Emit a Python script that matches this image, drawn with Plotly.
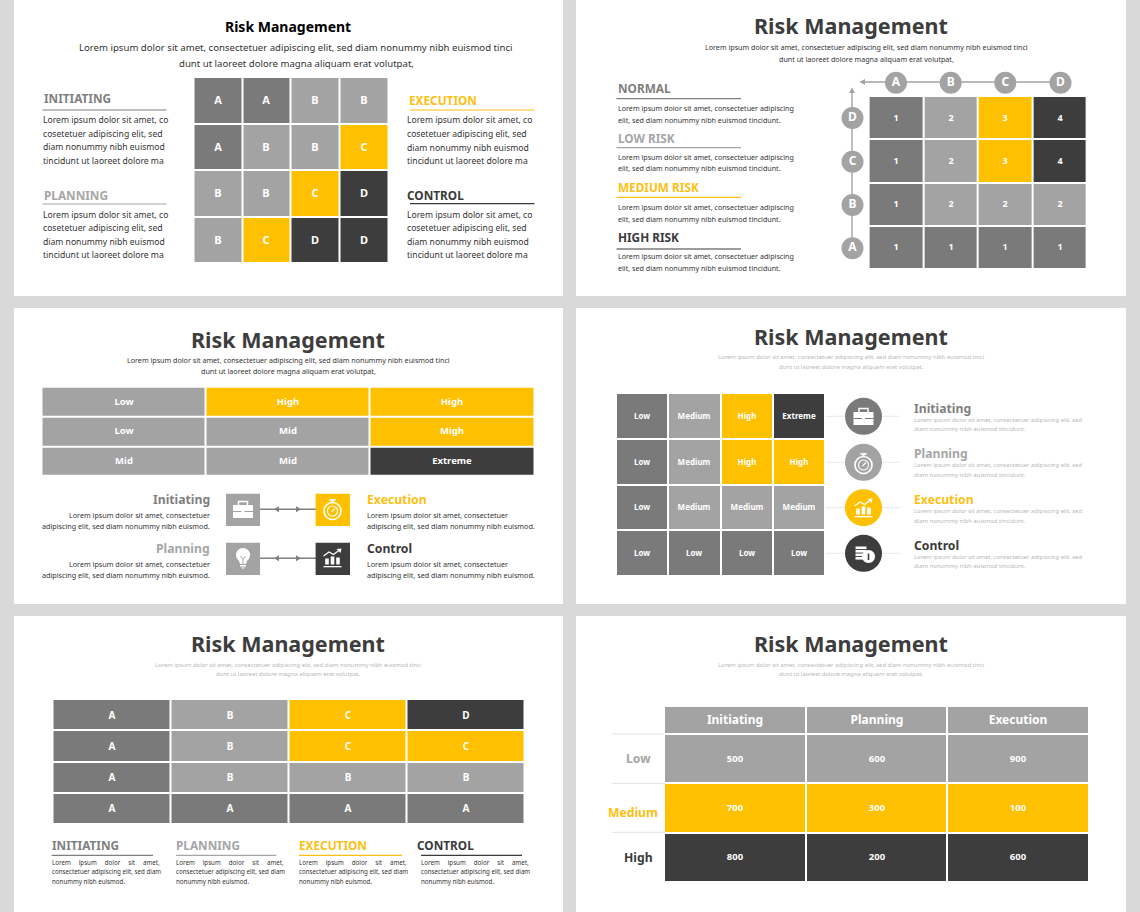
import numpy as np
import plotly.graph_objects as go

# ---------- data ----------
TITLE = "Risk Management"
SUB1 = "Lorem ipsum dolor sit amet, consectetuer adipiscing elit, sed diam nonummy nibh euismod tinci"
SUB2 = "dunt ut laoreet dolore magna aliquam erat volutpat,"

m1_labels = [list("AABB"), list("ABBC"), list("BBCD"), list("BCDD")]
m1_tiers = [[0, 0, 1, 1], [0, 1, 1, 2], [1, 1, 2, 3], [1, 2, 3, 3]]

m2_labels = [[1, 2, 3, 4], [1, 2, 3, 4], [1, 2, 2, 2], [1, 1, 1, 1]]
m2_tiers = [[0, 1, 2, 3], [0, 1, 2, 3], [0, 1, 1, 1], [0, 0, 0, 0]]
m2_cols = ["A", "B", "C", "D"]
m2_rows = ["D", "C", "B", "A"]

m3_labels = [["Low", "High", "High"], ["Low", "Mid", "Migh"], ["Mid", "Mid", "Extreme"]]
m3_tiers = [[1, 2, 2], [1, 1, 2], [1, 1, 3]]

m4_labels = [["Low", "Medium", "High", "Extreme"], ["Low", "Medium", "High", "High"],
             ["Low", "Medium", "Medium", "Medium"], ["Low", "Low", "Low", "Low"]]
m4_tiers = [[0, 1, 2, 3], [0, 1, 2, 2], [0, 1, 1, 1], [0, 0, 0, 0]]

m5_labels = [list("ABCD"), list("ABCC"), list("ABBB"), list("AAAA")]
m5_tiers = [[0, 1, 2, 3], [0, 1, 2, 2], [0, 1, 1, 1], [0, 0, 0, 0]]

m6_headers = ["Initiating", "Planning", "Execution"]
m6_rows = ["Low", "Medium", "High"]
m6_values = [[500, 600, 900], [700, 300, 100], [800, 200, 600]]
m6_tiers = [[1, 1, 1], [2, 2, 2], [3, 3, 3]]

# ---------- style ----------
FONT = "Noto Sans"
D1, G1, Y1, K1 = "#7a7a7a", "#a3a3a3", "#ffc000", "#3d3d3d"
H_GRAY, H_LIGHT, H_GOLD, H_DARK = "#7f7f7f", "#a6a6a6", "#fdbf12", "#3a3a3a"
TIER_SCALE = [[0, D1], [.25, D1], [.25, G1], [.5, G1], [.5, Y1], [.75, Y1], [.75, K1], [1, K1]]
LIGHT_TXT = "#b8b8b8"
BODY = "#333333"

fig = go.Figure()
shapes, notes = [], []


def rect(x0, y0, x1, y1, color, layer="below"):
    shapes.append(dict(type="rect", xref="x", yref="y", x0=x0, y0=y0, x1=x1, y1=y1,
                       fillcolor=color, line_width=0, layer=layer))


def hline(x0, x1, y, color, w=1.2, layer="below"):
    shapes.append(dict(type="line", xref="x", yref="y", x0=x0, x1=x1, y0=y, y1=y,
                       line=dict(color=color, width=w), layer=layer))


def vline(x, y0, y1, color, w=1.2):
    shapes.append(dict(type="line", xref="x", yref="y", x0=x, x1=x, y0=y0, y1=y1,
                       line=dict(color=color, width=w), layer="below"))


def path(d, fill=None, line=None, w=1.2):
    shapes.append(dict(type="path", xref="x", yref="y", path=d, layer="above",
                       fillcolor=fill if fill else "rgba(0,0,0,0)",
                       line=dict(color=line if line else "rgba(0,0,0,0)", width=w if line else 0)))


def txt(x, y, s, size, color=BODY, bold=False, anchor="left"):
    notes.append(dict(x=x, y=y, xref="x", yref="y", text=s, showarrow=False, xanchor=anchor,
                      yanchor="middle", align=anchor,
                      font=dict(family=FONT, size=size, color=color, weight=700 if bold else 400),
                      borderpad=0, borderwidth=0))


def grid(x0, x1, y0, y1, gap, labels, tiers, size, color="white"):
    nr, nc = len(labels), len(labels[0])
    xs = np.linspace(x0 - gap / 2, x1 + gap / 2, nc + 1)
    ys = np.linspace(y0 - gap / 2, y1 + gap / 2, nr + 1)
    fig.add_trace(go.Heatmap(
        x=xs, y=ys, z=tiers, zmin=0, zmax=3, colorscale=TIER_SCALE, showscale=False,
        xgap=gap, ygap=gap, text=[[str(v) for v in r] for r in labels], texttemplate="%{text}",
        textfont=dict(family=FONT, size=size, color=color, weight=700), hoverinfo="skip"))


def title(cx, y, size=21.5, color=K1):
    txt(cx, y, TITLE, size, color, True, "center")


def sub(cx, y0, y1, size, color=BODY):
    txt(cx, y0, SUB1, size, color, False, "center")
    txt(cx, y1, SUB2, size, color, False, "center")


def para(x, ys, lines, size, color=BODY, anchor="left"):
    for y, l in zip(ys, lines):
        txt(x, y, l, size, color, False, anchor)


# ---------- icons ----------
def circ(cx, cy, r):
    k = .5523 * r
    return (f"M{cx-r},{cy} C{cx-r},{cy-k} {cx-k},{cy-r} {cx},{cy-r} C{cx+k},{cy-r} {cx+r},{cy-k} {cx+r},{cy} "
            f"C{cx+r},{cy+k} {cx+k},{cy+r} {cx},{cy+r} C{cx-k},{cy+r} {cx-r},{cy+k} {cx-r},{cy} Z")


def box(x0, y0, x1, y1):
    return f"M{x0},{y0} L{x1},{y0} L{x1},{y1} L{x0},{y1} Z"


def briefcase(cx, cy, c="white", bg=G1):
    path(box(cx - 10, cy - 5, cx + 10, cy + 8), c)
    path(box(cx - 10, cy + 1, cx + 10, cy + 2), bg)
    path(box(cx - 1.5, cy, cx + 1.5, cy + 3.2), c)
    path(f"M{cx-4.5},{cy-5} L{cx-4.5},{cy-8.5} L{cx+4.5},{cy-8.5} L{cx+4.5},{cy-5}", None, c, 1.5)


def stopwatch(cx, cy, c="white"):
    path(circ(cx, cy + 2, 8.5), None, c, 1.7)
    path(circ(cx, cy + 2, 5), None, c, 1.1)
    path(box(cx - 3, cy - 10, cx + 3, cy - 8.2), c)
    path(box(cx - 1.1, cy - 9, cx + 1.1, cy - 6), c)
    path(f"M{cx-1},{cy+3} L{cx+2.5},{cy-0.5}", None, c, 1.1)


def bulb(cx, cy, c="white", bg=G1):
    path(circ(cx, cy - 3, 7), c)
    path(f"M{cx-4.5},{cy+1} L{cx-3},{cy+6} L{cx+3},{cy+6} L{cx+4.5},{cy+1} Z", c)
    path(box(cx - 3, cy + 7, cx + 3, cy + 8.5), c)
    path(f"M{cx-2.5},{cy-2} L{cx},{cy+1.5} L{cx+2.5},{cy-2} M{cx},{cy+1.5} L{cx},{cy+6}", None, bg, 0.9)
    path(f"M{cx-2},{cy+9.5} L{cx+2},{cy+9.5} L{cx},{cy+11} Z", c)


def chart(cx, cy, c="white"):
    path(box(cx - 9, cy + 7, cx + 9, cy + 8.3), c)
    for dx, h in ((-5.5, 6), (0, 8), (5.5, 7)):
        path(box(cx + dx - 1.8, cy + 5.5 - h, cx + dx + 1.8, cy + 5.5), c)
    path(f"M{cx-9},{cy-3} L{cx-3.5},{cy-7} L{cx+1},{cy-4.5} L{cx+7},{cy-9}", None, c, 1.3)
    path(f"M{cx+4},{cy-10} L{cx+9},{cy-10.5} L{cx+8},{cy-6} Z", c)


def coins(cx, cy, c="white", bg=K1):
    for dy in (-7, -3.5, 0, 3.5):
        path(box(cx - 8, cy + dy, cx + 3, cy + dy + 2.6), c)
    path(circ(cx + 5, cy + 3, 6.5), c)
    path(box(cx + 4.2, cy, cx + 5.8, cy + 6.5), bg)


# ---------- panels ----------
for px0, px1 in ((14, 563), (576, 1126)):
    for py0, py1 in ((-2, 296), (308, 604), (616, 914)):
        rect(px0, py0, px1, py1, "white")

# panel 1
grid(194.5, 387, 78, 262, 2, m1_labels, m1_tiers, 11)
title(288, 26, 14, "#000000")
sub(296, 47, 63, 9.6)
heads1 = [(43.5, 98, "INITIATING", H_GRAY, 42.5, 166.5, 110, 120),
          (43.5, 195, "PLANNING", H_LIGHT, 42.5, 166.5, 204, 214.5),
          (409, 99.5, "EXECUTION", H_GOLD, 410, 534.5, 110, 120.3),
          (407.3, 194.7, "CONTROL", H_DARK, 410, 534.5, 203.7, 214.5)]
lines1 = ["Lorem ipsum dolor sit amet, co", "cosetetuer adipiscing elit, sed",
          "diam nonummy nibh euismod", "tincidunt ut laoreet dolore ma"]
for x, y, s, c, r0, r1, ry, p0 in heads1:
    txt(x, y, s, 11.8, c, True)
    hline(r0, r1, ry, c)
    para(42.5 if x < 100 else 407, [p0, p0 + 13.6, p0 + 27.2, p0 + 40.8], lines1, 8.6)

# panel 2
grid(869.6, 1086, 97, 268, 2, m2_labels, m2_tiers, 9)
title(851, 25.5)
sub(866, 47, 58.7, 7.15)
lines2 = ["Lorem ipsum dolor sit amet, consectetuer adipiscing", "elit, sed diam nonummy nibh euismod tincidunt."]
for s, c, y, ry, p0 in (("NORMAL", H_GRAY, 88.3, 98.7, 108), ("LOW RISK", H_LIGHT, 137.7, 147.7, 156.7),
                        ("MEDIUM RISK", H_GOLD, 187.3, 197.3, 207.3), ("HIGH RISK", H_DARK, 237.3, 249, 256.3)):
    txt(618, y, s, 11.8, c, True)
    hline(616.5, 741, ry, c)
    para(617.6, [p0, p0 + 11.5], lines2, 7.15)
hline(862, 1061, 82, G1, 1.4)
vline(852, 91, 248, G1, 1.4)
path("M859.5,82 L865,79 L865,85 Z", G1)
path("M852,87.5 L849,93 L855,93 Z", G1)
fig.add_trace(go.Scatter(x=[896, 950.7, 1005.3, 1060.5], y=[82.7] * 4, mode="markers+text", text=m2_cols,
                         marker=dict(size=22, color=G1), hoverinfo="skip",
                         textfont=dict(family=FONT, size=12, color="white", weight=700), textposition="middle center"))
fig.add_trace(go.Scatter(x=[852.5] * 4, y=[118, 161.7, 205, 248.3], mode="markers+text", text=m2_rows,
                         marker=dict(size=22, color=G1), hoverinfo="skip",
                         textfont=dict(family=FONT, size=12, color="white", weight=700), textposition="middle center"))

# panel 3
grid(42.5, 533, 387.7, 475, 2, m3_labels, m3_tiers, 9.5)
title(288, 339)
sub(288, 359.7, 371.3, 7.15)
lines3 = ["Lorem ipsum dolor sit amet, consectetuer", "adipiscing elit, sed diam nonummy nibh euismod."]
for s, c, x, y, a in (("Initiating", H_GRAY, 209.5, 499, "right"), ("Planning", H_LIGHT, 209.5, 548, "right"),
                      ("Execution", H_GOLD, 367, 499, "left"), ("Control", H_DARK, 367, 548, "left")):
    txt(x, y, s, 12.2, c, True, a)
    para(x, [y + 15.7, y + 27.3], lines3, 7.2, BODY, a)
for y0, c2 in ((493.7, Y1), (542.7, K1)):
    hline(260, 316, y0 + 15.5, H_GRAY, 1.5)
    rect(226, y0, 260, y0 + 32.3, G1)
    rect(315.6, y0, 350, y0 + 32.3, c2)
    path(f"M274,{y0+15.5} L279,{y0+12.5} L279,{y0+18.5} Z", H_GRAY)
    path(f"M301,{y0+15.5} L296,{y0+12.5} L296,{y0+18.5} Z", H_GRAY)
briefcase(243, 510)
stopwatch(332.5, 509)
bulb(243, 558)
chart(332.5, 559)

# panel 4
grid(617, 824, 394, 575, 2, m4_labels, m4_tiers, 8)
title(851, 336)
sub(851, 357.3, 366.7, 5.9, LIGHT_TXT)
yc = [416.3, 462.3, 507.7, 553.3]
for y in yc:
    hline(826, 844.5, y, "#e8e8e8", 1)
    hline(882.7, 900, y, "#e8e8e8", 1)
fig.add_trace(go.Scatter(x=[863.5] * 4, y=yc, mode="markers", hoverinfo="skip",
                         marker=dict(size=37, color=[D1, G1, Y1, K1])))
briefcase(863.5, 417, "white", D1)
stopwatch(863.5, 463)
chart(863.5, 509)
coins(863.5, 553.5)
lines4 = ["Lorem ipsum dolor sit amet, consectetuer adipiscing elit, sed", "diam nonummy nibh euismod tincidunt."]
for s, c, y, p0 in (("Initiating", H_GRAY, 408, 420), ("Planning", H_LIGHT, 453.3, 465.3),
                    ("Execution", H_GOLD, 499.3, 511.3), ("Control", H_DARK, 545, 557)):
    txt(913.6, y, s, 12.2, c, True)
    para(913.6, [p0, p0 + 9.4], lines4, 5.9, LIGHT_TXT)

# panel 5
grid(53.5, 523.6, 700, 823, 2, m5_labels, m5_tiers, 10)
title(288, 643.3)
sub(288, 665, 674.3, 5.9, LIGHT_TXT)
N = "\u00a0" * 5
lines5 = [f"Lorem{N}ipsum{N}dolor{N}sit{N}amet,", "consectetuer adipiscing elit, sed diam", "nonummy nibh euismod."]
for s, c, x, r0, r1 in (("INITIATING", H_GRAY, 51.6, 51.6, 153), ("PLANNING", H_LIGHT, 176, 176, 276.4),
                        ("EXECUTION", H_GOLD, 299, 299, 402), ("CONTROL", H_DARK, 416.7, 421, 522)):
    txt(x, 845.3, s, 11.8, c, True)
    hline(r0, r1, 855.3, c)
    para(r0, [862.3, 871.7, 881], lines5, 6.2)

# panel 6
grid(665, 1088, 707, 733, 2, [m6_headers], [[1, 1, 1]], 12)
grid(665, 1088, 735, 881, 2, m6_values, m6_tiers, 9.5)
title(851, 643.3)
sub(851, 665, 674.3, 5.9, LIGHT_TXT)
for y in (734, 783.3, 832.3):
    hline(612, 664.5, y, "#e3e3e3", 1)
for s, c, x, y in zip(m6_rows, (H_LIGHT, H_GOLD, H_DARK), (638.4, 633, 638.4), (758.3, 812, 857.7)):
    txt(x, y, s, 12.2, c, True, "center")

fig.update_layout(
    width=1140, height=912, margin=dict(l=0, r=0, t=0, b=0), paper_bgcolor="#d9d9d9", plot_bgcolor="#d9d9d9",
    showlegend=False, shapes=shapes, annotations=notes,
    xaxis=dict(range=[0, 1140], visible=False, fixedrange=True),
    yaxis=dict(range=[912, 0], visible=False, fixedrange=True))

fig.write_html("out.html", config=dict(displayModeBar=False),
               post_script="document.body.style.margin='0';document.body.style.overflow='hidden';")
